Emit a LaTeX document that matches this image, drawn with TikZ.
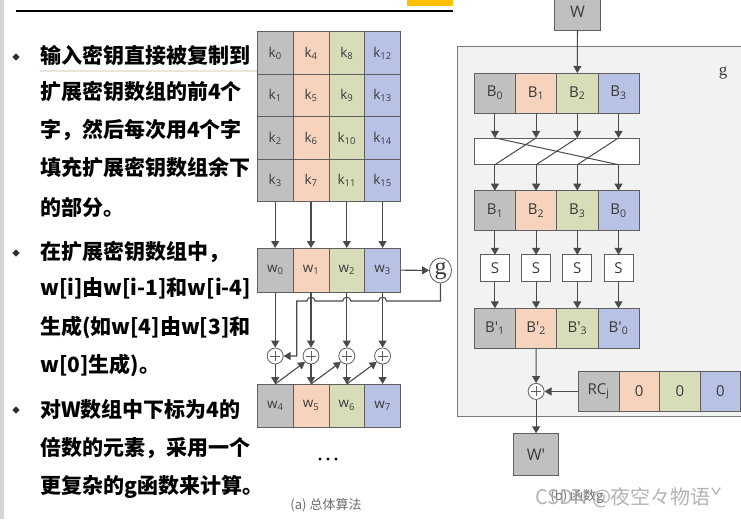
\documentclass[tikz,border=0pt]{standalone}
\usepackage{fontspec}
\usepackage{xcolor}
\usepackage{tikz}
\usetikzlibrary{arrows.meta,positioning,calc,shapes.geometric}
\setmainfont{Liberation Serif}
\newfontfamily\cjk{Noto Sans CJK SC}
\newfontfamily\lbl{Open Sans}
\definecolor{cellgrey}{HTML}{C0C0C0}
\definecolor{cellpeach}{HTML}{F6D3BC}
\definecolor{cellgreen}{HTML}{D6DDB8}
\definecolor{cellblue}{HTML}{B8C2E5}
\definecolor{edge}{HTML}{5F5F5F}
\definecolor{arrowgrey}{HTML}{4A4A4A}
\definecolor{labelink}{HTML}{3A3A3A}
\definecolor{gboxbg}{HTML}{F2F2F2}
\definecolor{gboxedge}{HTML}{7A7A7A}
\definecolor{captiongrey}{HTML}{6E6E6E}
\definecolor{markgrey}{HTML}{A6A6A6}
\definecolor{slidegold}{HTML}{FFC000}
\definecolor{sidebar}{HTML}{D5D5D5}
\definecolor{faintline}{HTML}{E9E5D9}
\definecolor{bulletink}{HTML}{2E2E2E}

\begin{document}
\begin{tikzpicture}[
  x=1pt, y=-1pt,
  cell/.style={draw=edge, line width=0.8pt, minimum width=35.8pt, minimum height=42.5pt,
               inner sep=0pt, outer sep=0pt, text=labelink, font=\lbl\fontsize{13.5}{13.5}\selectfont},
  bcell/.style={cell, minimum width=41.2pt, minimum height=40pt, font=\lbl\fontsize{15}{15}\selectfont},
  sbox/.style={bcell, fill=white, minimum width=29pt, minimum height=27pt},
  wbox/.style={bcell, fill=cellgrey, minimum width=46pt, minimum height=36pt, font=\lbl\fontsize{16}{16}\selectfont},
  permbox/.style={draw=edge, line width=0.8pt, fill=white, minimum width=164.8pt, minimum height=26pt, inner sep=0pt},
  xor/.style={circle, draw=edge, fill=white, line width=0.8pt, minimum size=16pt, inner sep=0pt,
              path picture={\draw[edge, line width=0.8pt]
                ($(path picture bounding box.center)+(-5,0)$) -- +(10,0)
                ($(path picture bounding box.center)+(0,-5)$) -- +(0,10);}},
  gcirc/.style={ellipse, draw=edge, fill=white, line width=0.8pt, minimum width=22pt, minimum height=25pt,
                inner sep=0pt, text=labelink, font=\rmfamily\fontsize{24}{24}\selectfont},
  txt/.style={anchor=west, inner sep=0pt, font=\cjk\bfseries\fontsize{21}{21}\selectfont},
  caption/.style={text=captiongrey, inner sep=0pt, font=\cjk\fontsize{13}{13}\selectfont},
  arr/.style={-{Triangle[length=7pt, width=8pt]}, draw=arrowgrey, line width=1.1pt},
  wire/.style={draw=arrowgrey, line width=1pt}
]

\clip (0,0) rectangle (741,519);
\fill[white] (0,0) rectangle (741,519);

% slide side
\fill[sidebar] (0,0) rectangle (3.5,519);
\fill[slidegold] (407,0) rectangle (453,6);
\draw[line width=2.2pt] (16,11) -- (453,11);
\draw[faintline, line width=1.4pt] (40,71) -- (257,71);

\foreach \n/\y in {1/57, 2/253, 3/410}
  \node[fill=bulletink, rotate=45, minimum size=5pt, inner sep=0pt] (dot\n) at (16,\y) {};

\foreach \n/\y/\s in {
    1/55/{输入密钥直接被复制到},
    2/91/{扩展密钥数组的前4个},
    3/130/{字，然后每次用4个字},
    4/167/{填充扩展密钥数组余下},
    5/207/{的部分。},
    6/252/{在扩展密钥数组中，},
    7/288/{w[i]由w[i-1]和w[i-4]},
    8/327/{生成(如w[4]由w[3]和},
    9/365/{w[0]生成)。},
    10/410/{对W数组中下标为4的},
    11/448/{倍数的元素，采用一个},
    12/487/{更复杂的g函数来计算。}}
  \node[txt] (line\n) at (40,\y) {\s};

% (a) key expansion
\def\cw{35.8}
\foreach \c/\fillc in {0/cellgrey, 1/cellpeach, 2/cellgreen, 3/cellblue} {
  \foreach \r in {0,...,3} {
    \pgfmathtruncatemacro{\k}{4*\c+\r}
    \node[cell, fill=\fillc] (k\c\r) at (275.2+\c*\cw, 53+\r*42.5) {k\textsubscript{\k}};
  }
  \pgfmathtruncatemacro{\m}{\c+4}
  \node[cell, fill=\fillc, minimum height=44pt] (w\c) at (275.2+\c*\cw, 270) {w\textsubscript{\c}};
  \node[cell, fill=\fillc, minimum height=43pt] (w\m) at (275.2+\c*\cw, 405.5) {w\textsubscript{\m}};
  \node[xor] (x\c) at (275.2+\c*\cw, 356) {};
  \draw[arr] (k\c3) -- (w\c);
  \draw[arr] (w\c) -- (x\c);
  \draw[arr] (x\c) -- (w\m);
}

\foreach \a/\b in {4/1, 5/2, 6/3}
  \draw[arr] (w\a.north) -- (x\b.south west);

\node[gcirc] (g) at (440.5,270.5) {g};
\draw[arr] (w3) -- (g);
\draw[arr] (g.south) |- ($(w3.south)+(4,9)$) .. controls +(0,-5) and +(0,-5) .. ++(-8,0)
  -- ($(w2.south)+(4,9)$) .. controls +(0,-5) and +(0,-5) .. ++(-8,0)
  -- ($(w1.south)+(4,9)$) .. controls +(0,-5) and +(0,-5) .. ++(-8,0)
  -- ($(w0.south)+(21.5,9)$) |- (x0.east);

\foreach \dx in {-8,0,8}
  \fill (328+\dx,459) circle (1.7);
\node[caption] (capa) at (326,505) {(a) 总体算法};

% (b) the g function
\draw[draw=gboxedge, fill=gboxbg, line width=0.8pt] (457.3,46.7) rectangle (760,416.7);
\node[text=labelink, font=\rmfamily\fontsize{17}{17}\selectfont] (glabel) at (723,73) {g};

\node[wbox] (W) at (577.5,12) {W};

\def\bw{41.2}
\foreach \c/\fillc in {0/cellgrey, 1/cellpeach, 2/cellgreen, 3/cellblue} {
  \pgfmathtruncatemacro{\n}{mod(\c+1,4)}
  \node[bcell, fill=\fillc] (b\c) at (494.9+\c*\bw, 93) {B\textsubscript{\c}};
  \node[bcell, fill=\fillc, minimum height=39.5pt] (p\c) at (494.9+\c*\bw, 210.4) {B\textsubscript{\n}};
  \node[sbox] (s\c) at (494.9+\c*\bw, 268.3) {S};
  \node[bcell, fill=\fillc] (q\c) at (494.9+\c*\bw, 328.3) {B'\textsubscript{\n}};
}
\node[permbox] (perm) at (556.5,151.3) {};

\draw[arr] (W) -- (b2);
\foreach \c in {0,...,3} {
  \draw[arr] (b\c) -- (b\c |- perm.north);
  \draw[arr] (b\c |- perm.south) -- (p\c);
  \draw[arr] (p\c) -- (s\c);
  \draw[arr] (s\c) -- (q\c);
}
\foreach \a/\b in {0/3, 1/0, 2/1, 3/2}
  \draw[wire] (b\a |- perm.north) -- (b\b |- perm.south);

\def\rw{40.6}
\foreach \c/\fillc/\t in {0/cellgrey/{RC\textsubscript{j}}, 1/cellpeach/0, 2/cellgreen/0, 3/cellblue/0}
  \node[bcell, fill=\fillc, minimum width=40.6pt, minimum height=39.3pt] (rc\c) at (598.6+\c*\rw, 391.4) {\t};

\node[xor] (xg) at (536.1,391.4) {};
\node[wbox, minimum width=45.4pt, minimum height=42.4pt] (Wp) at (536.1,454.5) {W'};
\draw[arr] (q1) -- (xg);
\draw[arr] (rc0) -- (xg);
\draw[arr] (xg) -- (Wp);

\node[caption] (capb) at (577,497) {(b) 函数g};
\node[anchor=west, inner sep=0pt, text=markgrey, opacity=0.85, font=\cjk\fontsize{20}{20}\selectfont]
  (mark) at (535,498) {CSDN @夜空々物语ˇ};

\end{tikzpicture}
\end{document}
